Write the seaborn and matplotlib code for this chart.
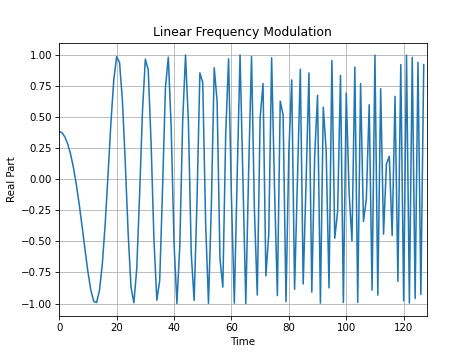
import numpy as np
import pandas as pd
import matplotlib
matplotlib.use('Agg')
import matplotlib.pyplot as plt
import seaborn as sns

# Real part of a 128-sample linear chirp
time = list(range(128))
real_part = [
    0.386, 0.374, 0.339, 0.281, 0.197, 0.087, -0.050, -0.209,
    -0.386, -0.570, -0.746, -0.892, -0.983, -0.992, -0.897, -0.685,
    -0.363, 0.037, 0.453, 0.800, 0.987, 0.941, 0.639, 0.136,
    -0.431, -0.868, -0.994, -0.720, -0.123, 0.549, 0.967, 0.880,
    0.293, -0.486, -0.973, -0.815, -0.074, 0.737, 0.983, 0.420,
    -0.518, -1.000, -0.539, 0.464, 1.000, 0.464, -0.600, -0.975,
    -0.172, 0.856, 0.777, -0.351, -0.998, -0.209, 0.897, 0.629,
    -0.639, -0.868, 0.363, 0.970, -0.148, -0.997, 0.025, 1.000,
    0.000, -1.000, 0.074, 0.989, -0.245, -0.932, 0.497, 0.770,
    -0.777, -0.442, 0.978, -0.062, -0.936, 0.629, 0.518, -0.985,
    0.221, 0.800, -0.886, -0.012, 0.886, -0.843, -0.025, 0.856,
    -0.908, 0.185, 0.676, -0.997, 0.580, 0.233, -0.874, 0.956,
    -0.475, -0.257, 0.836, -0.992, 0.694, -0.111, -0.497, 0.903,
    -0.991, 0.770, -0.339, -0.160, 0.600, -0.892, 0.999, -0.932,
    0.729, -0.442, 0.123, 0.185, -0.453, 0.667, -0.822, 0.923,
    -0.978, 0.999, -0.996, 0.981, -0.960, 0.941, -0.927, 0.923,
]

df = pd.DataFrame({'Time': time, 'Real Part': real_part})

fig, ax = plt.subplots(figsize=(474 / 74, 355 / 74), dpi=74)
sns.lineplot(data=df, x='Time', y='Real Part', color='#1f77b4', linewidth=1.5, ax=ax)
ax.set_xlim(0, 128)
ax.grid(True)
ax.set_title('Linear Frequency Modulation')
ax.set_xlabel('Time')
ax.set_ylabel('Real Part')

fig.savefig('out.png', dpi=74)
